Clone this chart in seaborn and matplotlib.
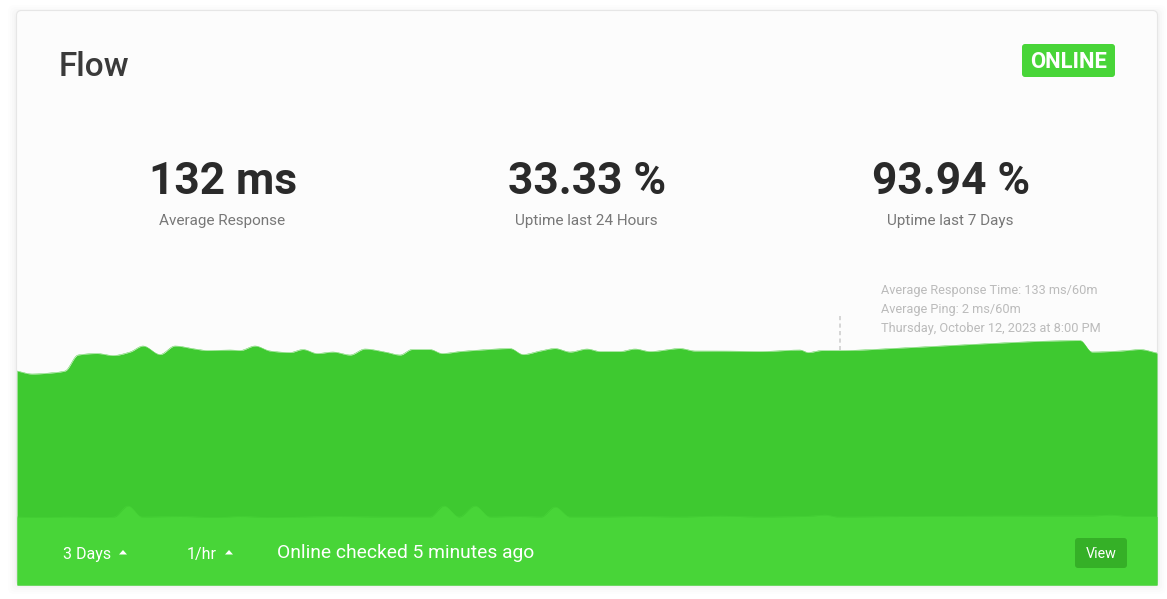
import matplotlib
matplotlib.use("Agg")
import matplotlib.pyplot as plt
from matplotlib.patches import FancyBboxPatch, Polygon
import numpy as np
import pandas as pd
import seaborn as sns

W, H = 1167, 599

stat_values = ["132 ms", "33.33 %", "93.94 %"]
stat_labels = ["Average Response", "Uptime last 24 Hours", "Uptime last 7 Days"]
tooltip_lines = ["Average Response Time: 133 ms/60m", "Average Ping: 2 ms/60m",
                 "Thursday, October 12, 2023 at 8:00 PM"]

# Timeline position and area heights
top_x = [17, 32, 50, 65, 78, 97, 113, 130, 143, 160, 175,
         195, 207, 230, 240, 255, 270, 290, 303, 317, 333, 350, 365, 385,
         400, 412, 430, 442, 460, 480, 510, 523, 540, 555, 570, 587, 600, 620, 635, 650,
         680, 695, 720, 760, 800, 808, 822, 840, 900, 1000, 1050, 1080, 1092, 1120, 1140, 1157]
top_h = [214, 211, 212, 214, 230, 231.5, 229.5, 233, 239, 230.5, 239,
         236, 234.5, 235, 234.5, 239, 234, 232.5, 235.5, 231.5, 233, 230, 236, 233,
         230, 235.5, 235.5, 231.5, 233.5, 235, 236.5, 230.5, 234, 236.5, 233, 236, 233.5, 233.5, 236, 233.5,
         236.5, 234, 234, 233.5, 235, 232.5, 234.5, 234.5, 237, 242, 244, 244.5, 233, 234, 235.5, 232]
bottom_x = [17, 40, 70, 100, 114, 128, 142, 180, 215, 240, 270, 300, 340, 380, 430, 444, 459,
            475, 490, 520, 541, 555, 570, 600, 640, 680, 720, 760, 800, 812, 825, 838, 900, 1000,
            1090, 1110, 1130, 1157]
bottom_h = [68, 67.5, 68, 67.5, 68, 79, 68, 68.5, 67.5, 68.5, 67.5, 68, 68.5, 68, 68, 79, 68,
            79, 68, 68.5, 68, 78, 68, 68, 68.5, 68, 69, 68, 68.5, 69, 70, 68, 68.5, 69,
            69, 70, 68.5, 68.5]

DARK = "#3EC930"
LIGHT = "#48D538"


def monotone_curve(x, y, per_segment=12):
    """Draw a smooth monotone cubic through the read values (like a curveMonotoneX path)."""
    x, y = np.asarray(x, float), np.asarray(y, float)
    h = np.diff(x)
    s = np.diff(y) / h
    m = np.zeros_like(y)
    m[0], m[-1] = s[0], s[-1]
    for i in range(1, len(x) - 1):
        if s[i - 1] * s[i] > 0:
            w1, w2 = 2 * h[i] + h[i - 1], h[i] + 2 * h[i - 1]
            m[i] = (w1 + w2) / (w1 / s[i - 1] + w2 / s[i])
    xs, ys = [], []
    t = np.linspace(0, 1, per_segment, endpoint=False)
    for i in range(len(h)):
        a = (1 + 2 * t) * (1 - t) ** 2
        b = t * (1 - t) ** 2
        c = t ** 2 * (3 - 2 * t)
        d = t ** 2 * (t - 1)
        xs.append(x[i] + t * h[i])
        ys.append(a * y[i] + b * h[i] * m[i] + c * y[i + 1] + d * h[i] * m[i + 1])
    xs.append(x[-1:])
    ys.append(y[-1:])
    return pd.DataFrame({"t": np.concatenate(xs), "h": np.concatenate(ys)})


sns.set_theme(style="white")
plt.rcParams["font.family"] = ["Roboto", "DejaVu Sans"]

fig = plt.figure(figsize=(W / 100, H / 100), dpi=100, facecolor="white")


def make_axes(x0, y0, x1, y1):
    return fig.add_axes([x0 / W, 1 - y1 / H, (x1 - x0) / W, (y1 - y0) / H])


# Card behind the chart
bg = make_axes(0, 0, W, H)
bg.set_xlim(0, W)
bg.set_ylim(H, 0)
bg.axis("off")
for grow, alpha in [(9, .006), (7, .008), (5, .010), (3, .012), (1.5, .015)]:
    bg.add_patch(FancyBboxPatch((17 - grow, 11 + 3 - grow), 1140 + 2 * grow, 571 + 2 * grow,
                                boxstyle="round,pad=0,rounding_size=6", fc="black", ec="none", alpha=alpha))
bg.add_patch(FancyBboxPatch((16.5, 10.5), 1141, 574, boxstyle="round,pad=0,rounding_size=5",
                            fc="#FCFCFC", ec="#E6E6E6", lw=0.8))

# Area chart
ax = make_axes(17, 300, 1157, 585)
top = monotone_curve(top_x, top_h)
bottom = monotone_curve(bottom_x, bottom_h)
ax.fill_between(top["t"], 0, top["h"], color=DARK, lw=0)
sns.lineplot(data=top, x="t", y="h", color=DARK, lw=0.3, ax=ax, legend=False, errorbar=None, sort=False)
ax.fill_between(bottom["t"], 0, bottom["h"], color=LIGHT, lw=0)
sns.lineplot(data=bottom, x="t", y="h", color=LIGHT, lw=0.3, ax=ax, legend=False, errorbar=None, sort=False)
ax.set_xlim(17, 1157)
ax.set_ylim(0, 285)
ax.axis("off")

# Overlay: text and widgets
fg = make_axes(0, 0, W, H)
fg.set_xlim(0, W)
fg.set_ylim(H, 0)
fg.axis("off")
fg.patch.set_alpha(0)

fg.text(58.5, 67, "Flow", fontsize=24, fontweight="medium", color="#3A3A3A", va="center", ha="left")
fg.add_patch(FancyBboxPatch((1022, 44), 93, 33, boxstyle="round,pad=0,rounding_size=3", fc=LIGHT, ec="none"))
fg.text(1069, 61.5, "ONLINE", fontsize=15.8, fontweight="bold", color="white", va="center", ha="center")

for cx, val, lab in zip([223, 587, 951], stat_values, stat_labels):
    fg.text(cx, 181.5, val, fontsize=31.9, fontweight="bold", color="#2A2A2A", va="center", ha="center")
    fg.text(cx - 0.5, 221, lab, fontsize=11, color="#777777", va="center", ha="center")

for y, line in zip([290.3, 309.5, 328.5], tooltip_lines):
    fg.text(881, y, line, fontsize=9.2, color="#BBBBBB", va="center", ha="left")
fg.plot([840, 840], [316, 350], color="#CFCFCF", lw=1.2, ls=(0, (2.5, 2)))

fg.text(63, 554, "3 Days", fontsize=11.5, color="white", va="center", ha="left")
fg.add_patch(Polygon([(119, 554.5), (127, 554.5), (123, 550)], fc="white", ec="none"))
fg.text(187, 554, "1/hr", fontsize=11.5, color="white", va="center", ha="left")
fg.add_patch(Polygon([(225, 554.5), (233, 554.5), (229, 550)], fc="white", ec="none"))
fg.text(277, 552.5, "Online checked 5 minutes ago", fontsize=13.85, color="white", va="center", ha="left")
fg.add_patch(FancyBboxPatch((1075, 538), 52, 30, boxstyle="round,pad=0,rounding_size=3", fc="#35B027", ec="none"))
fg.text(1101, 553.5, "View", fontsize=10.3, color="white", va="center", ha="center")

fig.savefig("out.png", dpi=100, facecolor="white")
